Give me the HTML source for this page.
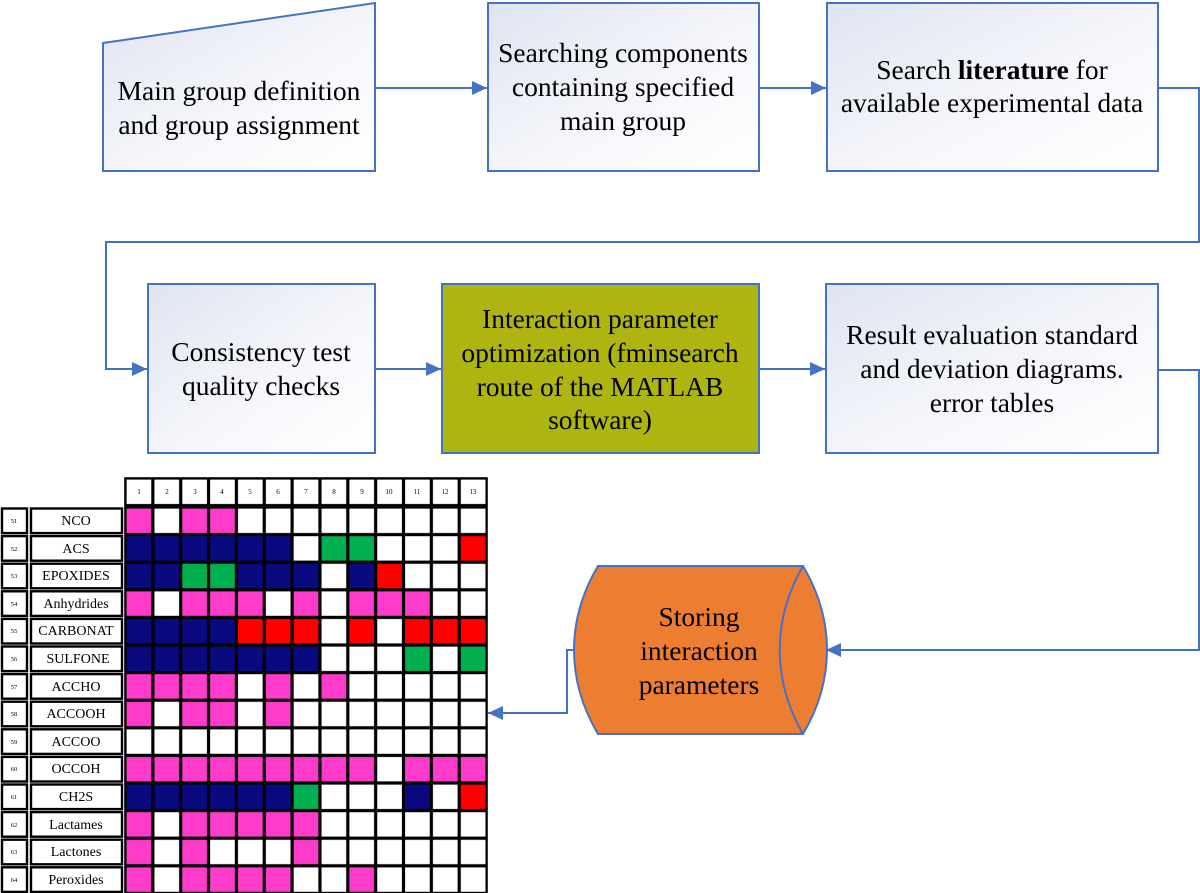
<!DOCTYPE html>
<html><head><meta charset="utf-8"><style>
html,body{margin:0;padding:0;background:#fff;}
svg{display:block;}
text{font-family:"Liberation Serif",serif;}
</style></head><body>
<svg width="1200" height="893" viewBox="0 0 1200 893" xmlns="http://www.w3.org/2000/svg">
<defs>
<linearGradient id="bg" x1="0" y1="0" x2="1" y2="1">
<stop offset="0" stop-color="#dfe4f1"/><stop offset="0.6" stop-color="#f7f8fc"/><stop offset="1" stop-color="#ffffff"/>
</linearGradient>
<marker id="ar" markerWidth="16" markerHeight="14" refX="15" refY="7" orient="auto" markerUnits="userSpaceOnUse">
<path d="M0,0 L15,7 L0,14 z" fill="#4472c4"/>
</marker>
<pattern id="grid" x="125" y="507" width="27.85" height="27.6" patternUnits="userSpaceOnUse">
<rect x="0" y="0" width="27.85" height="27.6" fill="none" stroke="#000" stroke-width="3.2"/>
</pattern>
<pattern id="gridh" x="125" y="478" width="27.85" height="27.6" patternUnits="userSpaceOnUse">
<rect x="0" y="0" width="27.85" height="27.6" fill="none" stroke="#000" stroke-width="3.2"/>
</pattern>
</defs>

<g stroke="#4472c4" stroke-width="2" fill="none">
<path d="M375,88 H487" marker-end="url(#ar)"/>
<path d="M759,88 H826" marker-end="url(#ar)"/>
<path d="M1158,88 H1199 V242 H106 V369 H147" marker-end="url(#ar)"/>
<path d="M375,369 H441" marker-end="url(#ar)"/>
<path d="M759,369 H825" marker-end="url(#ar)"/>
<path d="M1158,370 H1199 V650 H826" marker-end="url(#ar)"/>
<path d="M578,650 H567 V713 H488" marker-end="url(#ar)"/>
</g>

<path d="M103,43 L375,3 L375,171 L103,171 Z" fill="url(#bg)" stroke="#4472c4" stroke-width="2"/>
<rect x="488" y="3" width="271" height="168" fill="url(#bg)" stroke="#4472c4" stroke-width="2"/>
<rect x="827" y="3" width="331" height="168" fill="url(#bg)" stroke="#4472c4" stroke-width="2"/>
<rect x="148" y="284" width="227" height="169" fill="url(#bg)" stroke="#4472c4" stroke-width="2"/>
<rect x="442" y="284" width="317" height="169" fill="#aeb511" stroke="#4472c4" stroke-width="2"/>
<rect x="826" y="284" width="332" height="169" fill="url(#bg)" stroke="#4472c4" stroke-width="2"/>

<path d="M598,566 L803,566 C835,620 835,680 803,734 L598,734 C566,680 566,620 598,566 Z" fill="#ed7d31" stroke="#4472c4" stroke-width="2"/>
<path d="M803,566 C772,620 772,680 803,734" fill="none" stroke="#4472c4" stroke-width="2"/>

<g font-size="27.5" fill="#000" text-anchor="middle">
<text x="239" y="100">Main group definition</text>
<text x="239" y="134">and group assignment</text>
<text x="623" y="62">Searching components</text>
<text x="623" y="96">containing specified</text>
<text x="623" y="130">main group</text>
<text x="992" y="79">Search <tspan font-weight="bold">literature</tspan> for</text>
<text x="992" y="112">available experimental data</text>
<text x="261" y="361">Consistency test</text>
<text x="261" y="395">quality checks</text>
<text x="600" y="328">Interaction parameter</text>
<text x="600" y="362">optimization (fminsearch</text>
<text x="600" y="396">route of the MATLAB</text>
<text x="600" y="429">software)</text>
<text x="992" y="344">Result evaluation standard</text>
<text x="992" y="378">and deviation diagrams.</text>
<text x="992" y="412">error tables</text>
<text x="699" y="626">Storing</text>
<text x="699" y="660">interaction</text>
<text x="699" y="694">parameters</text>
</g>

<rect x="125" y="478" width="362" height="27.6" fill="#fff"/>
<rect x="125" y="478" width="362" height="27.6" fill="url(#gridh)"/>
<rect x="125" y="478" width="362" height="27.6" fill="none" stroke="#000" stroke-width="1.6"/>
<g font-size="7" text-anchor="middle" fill="#000">
<text x="139" y="494">1</text><text x="167" y="494">2</text><text x="195" y="494">3</text><text x="222" y="494">4</text><text x="250" y="494">5</text><text x="278" y="494">6</text><text x="306" y="494">7</text><text x="334" y="494">8</text><text x="362" y="494">9</text><text x="389" y="494">10</text><text x="417" y="494">11</text><text x="445" y="494">12</text><text x="473" y="494">13</text>
</g>

<rect x="125" y="507" width="362" height="386" fill="#fff"/>
<g>
<rect x="125" y="507" width="27.85" height="27.6" fill="#ff3bcc"/>
<rect x="180.7" y="507" width="55.7" height="27.6" fill="#ff3bcc"/>
<rect x="125" y="534.6" width="167.1" height="27.6" fill="#0a0a80"/>
<rect x="319.95" y="534.6" width="55.7" height="27.6" fill="#00b050"/>
<rect x="459.2" y="534.6" width="27.85" height="27.6" fill="#ff0000"/>
<rect x="125" y="562.2" width="55.7" height="27.6" fill="#0a0a80"/>
<rect x="180.7" y="562.2" width="55.7" height="27.6" fill="#00b050"/>
<rect x="236.4" y="562.2" width="83.55" height="27.6" fill="#0a0a80"/>
<rect x="347.8" y="562.2" width="27.85" height="27.6" fill="#0a0a80"/>
<rect x="375.65" y="562.2" width="27.85" height="27.6" fill="#ff0000"/>
<rect x="125" y="589.8" width="27.85" height="27.6" fill="#ff3bcc"/>
<rect x="180.7" y="589.8" width="83.55" height="27.6" fill="#ff3bcc"/>
<rect x="292.1" y="589.8" width="27.85" height="27.6" fill="#ff3bcc"/>
<rect x="347.8" y="589.8" width="83.55" height="27.6" fill="#ff3bcc"/>
<rect x="125" y="617.4" width="111.4" height="27.6" fill="#0a0a80"/>
<rect x="236.4" y="617.4" width="83.55" height="27.6" fill="#ff0000"/>
<rect x="347.8" y="617.4" width="27.85" height="27.6" fill="#ff0000"/>
<rect x="403.5" y="617.4" width="83.55" height="27.6" fill="#ff0000"/>
<rect x="125" y="645" width="194.95" height="27.6" fill="#0a0a80"/>
<rect x="403.5" y="645" width="27.85" height="27.6" fill="#00b050"/>
<rect x="459.2" y="645" width="27.85" height="27.6" fill="#00b050"/>
<rect x="125" y="672.6" width="111.4" height="27.6" fill="#ff3bcc"/>
<rect x="264.25" y="672.6" width="27.85" height="27.6" fill="#ff3bcc"/>
<rect x="319.95" y="672.6" width="27.85" height="27.6" fill="#ff3bcc"/>
<rect x="125" y="700.2" width="27.85" height="27.6" fill="#ff3bcc"/>
<rect x="180.7" y="700.2" width="55.7" height="27.6" fill="#ff3bcc"/>
<rect x="264.25" y="700.2" width="27.85" height="27.6" fill="#ff3bcc"/>
<rect x="125" y="755.4" width="250.65" height="27.6" fill="#ff3bcc"/>
<rect x="403.5" y="755.4" width="83.55" height="27.6" fill="#ff3bcc"/>
<rect x="125" y="783" width="167.1" height="27.6" fill="#0a0a80"/>
<rect x="292.1" y="783" width="27.85" height="27.6" fill="#00b050"/>
<rect x="403.5" y="783" width="27.85" height="27.6" fill="#0a0a80"/>
<rect x="459.2" y="783" width="27.85" height="27.6" fill="#ff0000"/>
<rect x="125" y="810.6" width="27.85" height="27.6" fill="#ff3bcc"/>
<rect x="180.7" y="810.6" width="139.25" height="27.6" fill="#ff3bcc"/>
<rect x="125" y="838.2" width="27.85" height="27.6" fill="#ff3bcc"/>
<rect x="180.7" y="838.2" width="27.85" height="27.6" fill="#ff3bcc"/>
<rect x="292.1" y="838.2" width="27.85" height="27.6" fill="#ff3bcc"/>
<rect x="125" y="865.8" width="27.85" height="27.6" fill="#ff3bcc"/>
<rect x="180.7" y="865.8" width="111.4" height="27.6" fill="#ff3bcc"/>
<rect x="347.8" y="865.8" width="27.85" height="27.6" fill="#ff3bcc"/>
</g>
<rect x="125" y="507" width="362" height="386" fill="url(#grid)"/>
<rect x="125" y="507" width="362" height="386" fill="none" stroke="#000" stroke-width="1.6"/>

<g fill="#fff" stroke="#000" stroke-width="2.4">
<rect x="2" y="508.5" width="25" height="24.6"/><rect x="31" y="508.5" width="91" height="24.6"/>
<rect x="2" y="536.1" width="25" height="24.6"/><rect x="31" y="536.1" width="91" height="24.6"/>
<rect x="2" y="563.7" width="25" height="24.6"/><rect x="31" y="563.7" width="91" height="24.6"/>
<rect x="2" y="591.3" width="25" height="24.6"/><rect x="31" y="591.3" width="91" height="24.6"/>
<rect x="2" y="618.9" width="25" height="24.6"/><rect x="31" y="618.9" width="91" height="24.6"/>
<rect x="2" y="646.5" width="25" height="24.6"/><rect x="31" y="646.5" width="91" height="24.6"/>
<rect x="2" y="674.1" width="25" height="24.6"/><rect x="31" y="674.1" width="91" height="24.6"/>
<rect x="2" y="701.7" width="25" height="24.6"/><rect x="31" y="701.7" width="91" height="24.6"/>
<rect x="2" y="729.3" width="25" height="24.6"/><rect x="31" y="729.3" width="91" height="24.6"/>
<rect x="2" y="756.9" width="25" height="24.6"/><rect x="31" y="756.9" width="91" height="24.6"/>
<rect x="2" y="784.5" width="25" height="24.6"/><rect x="31" y="784.5" width="91" height="24.6"/>
<rect x="2" y="812.1" width="25" height="24.6"/><rect x="31" y="812.1" width="91" height="24.6"/>
<rect x="2" y="839.7" width="25" height="24.6"/><rect x="31" y="839.7" width="91" height="24.6"/>
<rect x="2" y="867.3" width="25" height="24.6"/><rect x="31" y="867.3" width="91" height="24.6"/>
</g>
<g font-size="6.5" text-anchor="middle" fill="#000">
<text x="14" y="523">51</text><text x="14" y="551">52</text><text x="14" y="578">53</text><text x="14" y="606">54</text><text x="14" y="633">55</text><text x="14" y="661">56</text><text x="14" y="689">57</text><text x="14" y="716">58</text><text x="14" y="744">59</text><text x="14" y="771">60</text><text x="14" y="799">61</text><text x="14" y="827">62</text><text x="14" y="854">63</text><text x="14" y="882">64</text>
</g>
<g font-size="14" text-anchor="middle" fill="#000">
<text x="76" y="525">NCO</text>
<text x="76" y="553">ACS</text>
<text x="76" y="580">EPOXIDES</text>
<text x="76" y="608">Anhydrides</text>
<text x="76" y="635">CARBONAT</text>
<text x="78" y="663">SULFONE</text>
<text x="76" y="691">ACCHO</text>
<text x="76" y="718">ACCOOH</text>
<text x="76" y="746">ACCOO</text>
<text x="76" y="773">OCCOH</text>
<text x="76" y="801">CH2S</text>
<text x="76" y="829">Lactames</text>
<text x="76" y="856">Lactones</text>
<text x="76" y="884">Peroxides</text>
</g>
</svg>
</body></html>
